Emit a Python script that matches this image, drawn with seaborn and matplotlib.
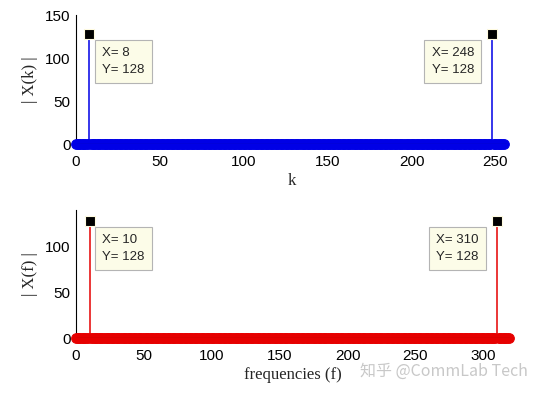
import numpy as np
import matplotlib
matplotlib.use("Agg")
import matplotlib.pyplot as plt
import pandas as pd
import seaborn as sns

sns.set_theme(style="white", rc={"axes.facecolor": "white"})
plt.rcParams["font.family"] = ["Liberation Sans", "DejaVu Sans"]

# DFT of a sampled cosine: N = 256 points, fs = 320 Hz
N = 256
fs = 320
peak_bins = [8, 248]
peak_value = 128

k = np.arange(N)
mag = np.zeros(N)
mag[peak_bins] = peak_value
freqs = k * fs / N

df = pd.DataFrame({"k": k, "f": freqs, "mag": mag})

blue = "#0000e6"
red = "#e60000"

fig = plt.figure(figsize=(5.41, 3.94), dpi=100)
ax1 = fig.add_axes([0.1405, 0.6345, 0.797, 0.327])
ax2 = fig.add_axes([0.1405, 0.142, 0.803, 0.325])


def stem_panel(ax, xcol, color, xlim, ylim, yticks, xlabel, ylabel, tip_offsets):
    ax.vlines(df[xcol], 0, df["mag"], color=color, lw=1.1, zorder=2)
    sns.scatterplot(data=df, x=xcol, y="mag", ax=ax, color=color, s=48,
                    edgecolor=color, linewidth=0.8, zorder=3, clip_on=False)
    ax.axhline(0, color="#202020", lw=0.8, zorder=4)
    ax.set_xlim(*xlim)
    ax.set_ylim(*ylim)
    ax.set_yticks(yticks)
    ax.set_xticks(np.arange(0, xlim[1], 50))
    ax.tick_params(direction="in", length=3, width=0.8, labelsize=11,
                   colors="black", pad=4)
    ax.tick_params(axis="x", length=0, pad=8)
    sns.despine(ax=ax)
    ax.spines["left"].set_color("black")
    ax.spines["bottom"].set_color("black")
    ax.spines["left"].set_linewidth(0.8)
    ax.set_xlabel(xlabel, family=["Liberation Serif"], fontsize=12, labelpad=3)
    ax.set_ylabel(ylabel, family=["Liberation Serif"], fontsize=12, labelpad=5)

    # data tips
    peaks = df[df["mag"] > 0]
    for (_, row), (dx, ha) in zip(peaks.iterrows(), tip_offsets):
        x, y = row[xcol], row["mag"]
        ax.plot([x], [y], marker="s", ms=7.5, color="black",
                mec="#fffbe0", mew=0.8, zorder=6, clip_on=False)
        ax.annotate(f"X= {x:g}\nY= {y:g}", xy=(x, y), xytext=(dx, -9.5),
                    textcoords="offset points", ha=ha, va="top",
                    multialignment="left", fontsize=9.5, linespacing=1.55,
                    zorder=7,
                    bbox=dict(boxstyle="square,pad=0.55", fc="#fcfce8",
                              ec="#b4b4b4", lw=0.8))


stem_panel(ax1, "k", blue, (0, 257), (0, 150), [0, 50, 100, 150],
           "k", "| X(k) |", [(9, "left"), (-13, "right")])
stem_panel(ax2, "f", red, (0, 320), (0, 140), [0, 50, 100],
           "frequencies (f)", "| X(f) |", [(9, "left"), (-13, "right")])

fig.text(0.975, 0.058, "知乎 @CommLab Tech", ha="right", va="center",
         fontsize=11.5, color="#c8c8c8",
         family=["Noto Sans CJK SC", "DejaVu Sans"])

fig.savefig("out.png", dpi=100)
